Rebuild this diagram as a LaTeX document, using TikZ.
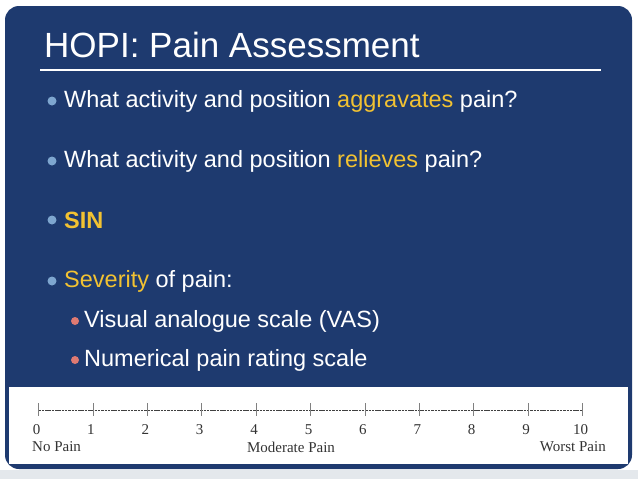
\documentclass[tikz,border=0pt]{standalone}
\usepackage{fontspec}
\setmainfont{Liberation Sans}
\newfontfamily\serif{Liberation Serif}
\definecolor{slideblue}{HTML}{1E3A6F}
\definecolor{hiyel}{HTML}{F2C232}
\definecolor{bul}{HTML}{7EA6CF}
\definecolor{subbul}{HTML}{E07A72}
\definecolor{outer}{HTML}{E4E8EC}
\begin{document}
\begin{tikzpicture}[x=1pt,y=-1pt,
  btxt/.style={anchor=west,text=white,font=\fontsize{23.5}{26}\selectfont,inner sep=0},
  bdot/.style={circle,fill=bul,inner sep=0,minimum size=9pt},
  sdot/.style={circle,fill=subbul,inner sep=0,minimum size=8pt},
  num/.style={font=\serif\fontsize{15}{17}\selectfont,inner sep=0,text=black!80}]
\useasboundingbox (0,0) rectangle (638,479);
\fill[white] (0,0) rectangle (638,479);
\fill[outer] (0,470) rectangle (638,479);
\fill[slideblue,rounded corners=14pt] (5,6) rectangle (632,469);
\fill[white] (9,387) rectangle (628,464);
\node[anchor=base west,text=white,font=\fontsize{35}{40}\selectfont,inner sep=0] (title) at (44,57) {HOPI: Pain Assessment};
\draw[white,line width=1.6pt] (40,70) -- (601,70);
\node[bdot] (d1) at (52,101) {};
\node[btxt] (t1) at (64,101) {What activity and position \textcolor{hiyel}{aggravates} pain?};
\node[bdot] (d2) at (52,161) {};
\node[btxt] (t2) at (64,161) {What activity and position \textcolor{hiyel}{relieves} pain?};
\node[bdot] (d3) at (52,220) {};
\node[btxt,text=hiyel,font=\bfseries\fontsize{23.5}{26}\selectfont] (t3) at (64,220) {SIN};
\node[bdot] (d4) at (52,281) {};
\node[btxt] (t4) at (64,281) {\textcolor{hiyel}{Severity} of pain:};
\node[sdot] (s1) at (75,321) {};
\node[btxt] (u1) at (84,321) {Visual analogue scale (VAS)};
\node[sdot] (s2) at (75,360) {};
\node[btxt] (u2) at (84,360) {Numerical pain rating scale};
\draw[black!75,dash pattern=on 2.5pt off 0.8pt,line width=0.8pt] (38.5,410) -- (582.5,410);
\foreach \i in {0,...,10}{
  \draw[gray,line width=0.6pt] ({38.5+54.4*\i},403) -- ({38.5+54.4*\i},416);
  \node[num] (n\i) at ({36.5+54.4*\i},430) {\i};
}
\node[num,anchor=west] (lo) at (32,447) {No Pain};
\node[num] (mid) at (291,447) {Moderate Pain};
\node[num,anchor=east] (hi) at (606,447) {Worst Pain};
\end{tikzpicture}
\end{document}
